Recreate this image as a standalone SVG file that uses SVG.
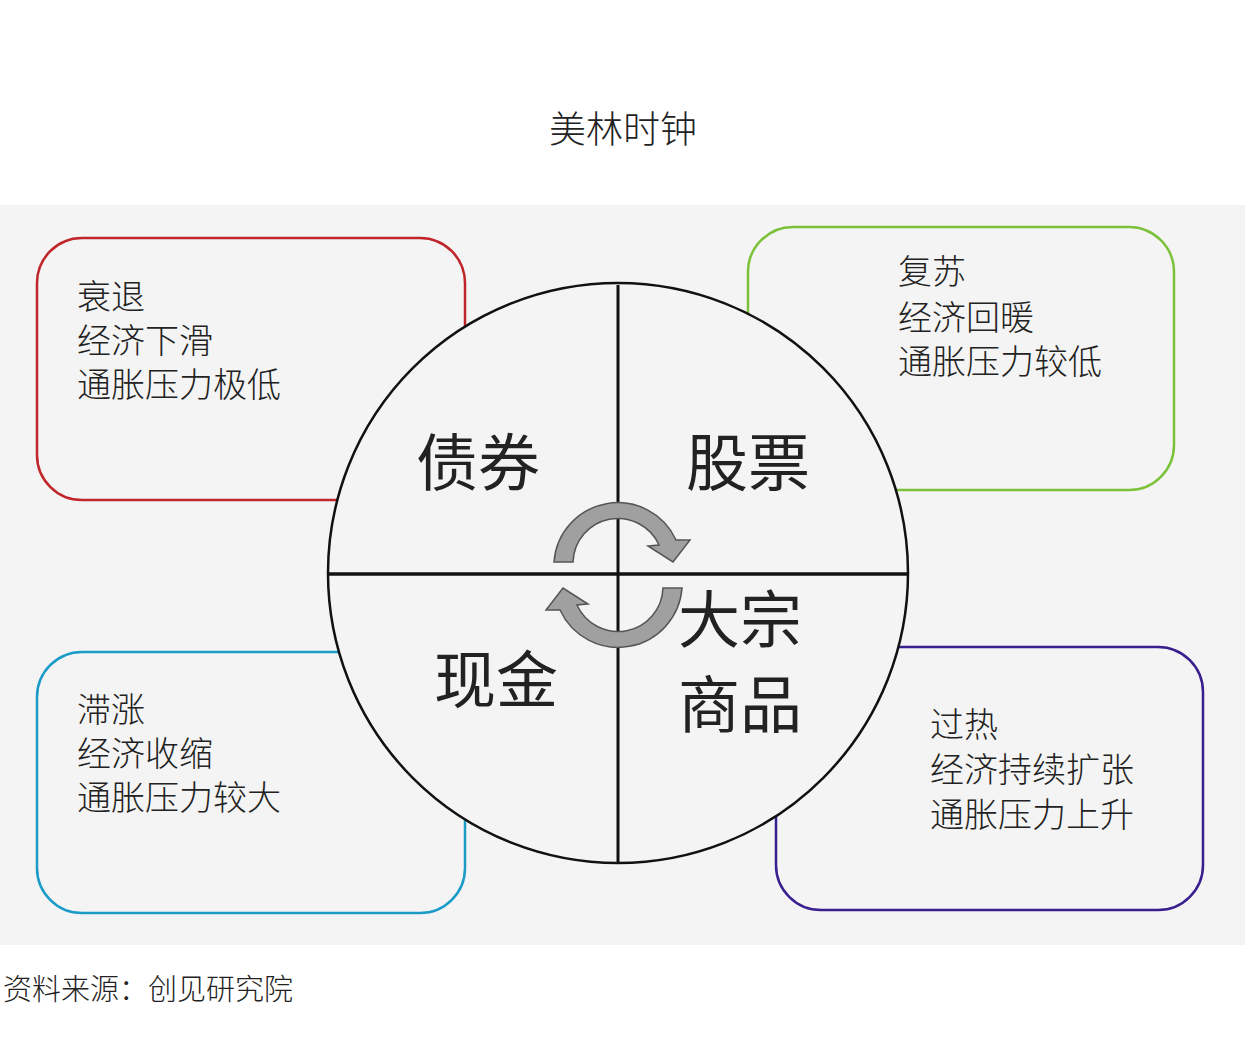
<svg xmlns="http://www.w3.org/2000/svg" width="1250" height="1042" viewBox="0 0 1250 1042">
<style>
text{font-family:"Noto Sans CJK SC","Noto Sans",sans-serif;fill:#222}
.t{font-size:34px;font-weight:300}
.b{font-size:62px;text-anchor:middle;font-weight:400}
.box{fill:none;stroke-width:2.5}
.arr{fill:#a0a0a0;stroke:#555;stroke-width:1.5}
</style>
<rect width="1250" height="1042" fill="#fff"/>
<rect x="0" y="205" width="1245" height="740" fill="#f4f4f4"/>
<text x="623" y="143" font-size="37" text-anchor="middle" style="font-weight:300">美林时钟</text>
<g id="recession"><rect class="box" x="37" y="238" width="428" height="262" rx="45" stroke="#c0252a"/>
<text class="t" x="77" y="309">衰退</text><text class="t" x="77" y="353">经济下滑</text><text class="t" x="77" y="397">通胀压力极低</text></g>
<g id="recovery"><rect class="box" x="748" y="227" width="426" height="263" rx="45" stroke="#7bc23a"/>
<text class="t" x="898" y="284">复苏</text><text class="t" x="898" y="330">经济回暖</text><text class="t" x="898" y="374">通胀压力较低</text></g>
<g id="stagflation"><rect class="box" x="37" y="652" width="428" height="261" rx="45" stroke="#1a9bc8"/>
<text class="t" x="77" y="722">滞涨</text><text class="t" x="77" y="766">经济收缩</text><text class="t" x="77" y="810">通胀压力较大</text></g>
<g id="overheat"><rect class="box" x="776" y="647" width="427" height="263" rx="45" stroke="#3a1f8f"/>
<text class="t" x="930" y="737">过热</text><text class="t" x="930" y="782">经济持续扩张</text><text class="t" x="930" y="827">通胀压力上升</text></g>
<g id="clock">
<circle cx="618" cy="573" r="290" fill="#f4f4f4" stroke="#111" stroke-width="2.5"/>
<line x1="618" y1="285" x2="618" y2="862" stroke="#111" stroke-width="3"/>
<line x1="328" y1="574" x2="908" y2="574" stroke="#111" stroke-width="3.5"/>
<text class="b" x="478" y="486">债券</text><text class="b" x="748" y="486">股票</text>
<text class="b" x="496" y="703">现金</text><text class="b" x="740" y="643">大宗</text><text class="b" x="740" y="728">商品</text>
</g>
<g id="connectors">
<path class="arr" d="M554,562 A64,64 0 0 1 676,540 L690,540 L673,562 L648,546 L659,545 A45,45 0 0 0 573,562 Z"/>
<path class="arr" transform="rotate(180 618 575)" d="M554,562 A64,64 0 0 1 676,540 L690,540 L673,562 L648,546 L659,545 A45,45 0 0 0 573,562 Z"/>
</g>
<text x="3" y="1000" font-size="29" style="font-weight:300">资料来源：创见研究院</text>
</svg>
